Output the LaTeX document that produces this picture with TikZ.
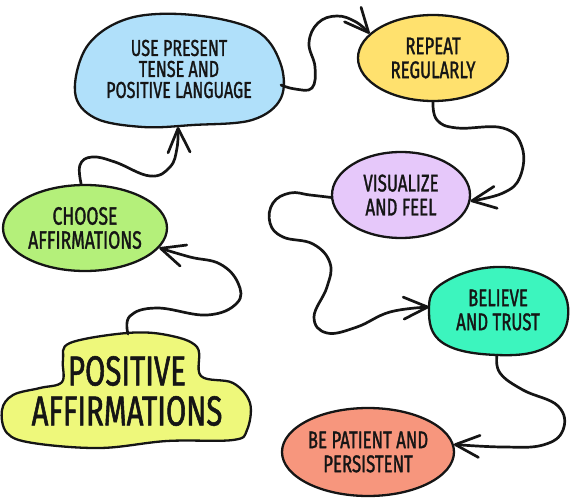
\documentclass[tikz,border=0pt]{standalone}
\usepackage{fontspec}
\newfontfamily\hand[FakeStretch=0.7, FakeBold=1.3]{Fira Sans}
\usetikzlibrary{arrows.meta,shapes.geometric}
\definecolor{ink}{HTML}{151515}
\definecolor{cloudC}{HTML}{EEF87B}
\definecolor{chooseC}{HTML}{B4F07A}
\definecolor{presentC}{HTML}{B0E0FA}
\definecolor{repeatC}{HTML}{FFE16E}
\definecolor{visC}{HTML}{E6C8FA}
\definecolor{believeC}{HTML}{3CF5BE}
\definecolor{patientC}{HTML}{F7967D}
\begin{document}
\begin{tikzpicture}[x=1pt,y=-1pt,
  blobline/.style={draw=ink, line width=2.3pt, line join=round},
  bubble/.style={blobline, ellipse, inner sep=0pt},
  txt/.style={align=center, text=ink, font=\hand\fontsize{24}{24}\selectfont},
  bigtxt/.style={align=center, text=ink, font=\hand\fontsize{42}{40}\selectfont},
  conn/.style={draw=ink, line width=2.7pt, line cap=round, line join=round,
    -{Straight Barb[length=24pt,width=22pt,round]}},
]
\useasboundingbox (0,0) rectangle (570,500);

% Positive affirmations cloud
\draw[blobline, fill=cloudC] plot[smooth cycle, tension=0.6] coordinates {(70,343) (127,333) (167,335) (197,347) (201,376) (233,383) (250,403) (247,430) (233,440) (167,441) (100,448) (33,443) (7,433) (2,410) (13,395) (40,388) (62,382) (63,360)};
\node[bigtxt] (pa) at (127,391) {POSITIVE\\AFFIRMATIONS};
\coordinate (paT) at (128,334);

% Choose affirmations
\node[bubble, fill=chooseC, minimum width=164pt, minimum height=86pt, txt, font=\hand\fontsize{25}{24}\selectfont] (ch) at (85,228) {CHOOSE\\AFFIRMATIONS};

% Use present tense blob
\draw[blobline, fill=presentC] plot[smooth cycle, tension=0.6] coordinates {(75,92) (88,45) (130,18) (193,15) (255,30) (280,62) (281,98) (252,120) (193,125) (143,127) (95,118)};
\node[txt, font=\hand\fontsize{23}{21}\selectfont] (up) at (179,69) {USE PRESENT\\TENSE AND\\POSITIVE LANGUAGE};
\coordinate (upB) at (178,127);
\coordinate (upR) at (281,85);

% Repeat regularly
\node[bubble, fill=repeatC, minimum width=150pt, minimum height=86pt, txt] (rp) at (433,58) {REPEAT\\REGULARLY};

% Visualize and feel
\node[bubble, fill=visC, minimum width=138pt, minimum height=86pt, txt] (vz) at (401,195) {VISUALIZE\\AND FEEL};

% Believe and trust
\draw[blobline, fill=believeC] plot[smooth cycle, tension=0.7] coordinates {(497,267) (553,281) (568,317) (547,347) (497,355) (443,343) (429,310) (443,283)};
\node[txt] (bv) at (498,310) {BELIEVE\\AND TRUST};
\coordinate (bvL) at (429,307);
\coordinate (bvB) at (497,355);

% Be patient and persistent
\node[bubble, fill=patientC, minimum width=172pt, minimum height=88pt, txt] (bp) at (368,452) {BE PATIENT AND\\PERSISTENT};

% Connectors
\draw[conn] plot[smooth, tension=0.7] coordinates {(paT) (130,316) (157,308) (207,315) (237,303) (238,283) (220,264) (190,257) (ch.-15)};
\draw[conn] plot[smooth, tension=0.7] coordinates {(ch.95) (80,165) (92,157) (115,162) (150,176) (170,167) (177,148) (upB)};
\draw[conn] plot[smooth, tension=0.7] coordinates {(upR) (295,89) (312,88) (315,67) (309,43) (318,23) (337,16) (356,22) (rp.159)};
\draw[conn] plot[smooth, tension=0.7] coordinates {(rp.south) (437,120) (457,128) (503,128) (522,147) (520,177) (503,193) (vz.-5)};
\draw[conn] plot[smooth, tension=0.7] coordinates {(vz.182) (310,195) (290,193) (273,203) (270,223) (283,237) (313,244) (330,263) (327,287) (314,317) (327,333) (357,327) (390,312) (bvL)};
\draw[conn] plot[smooth, tension=0.7] coordinates {(bvB) (500,373) (523,390) (558,406) (563,430) (543,445) (503,447) (bp.5)};
\end{tikzpicture}
\end{document}
